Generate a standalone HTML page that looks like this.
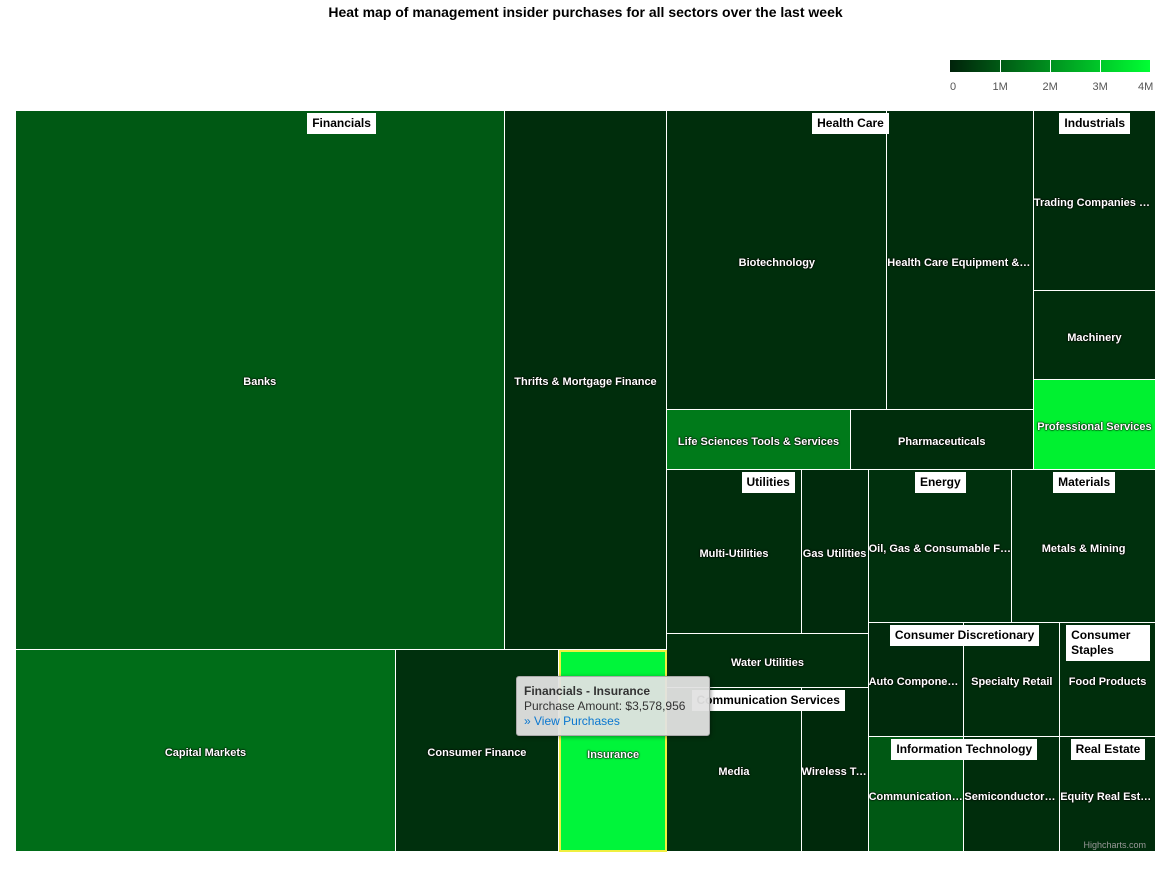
<!DOCTYPE html>
<html><head><meta charset="utf-8">
<style>
body{margin:0;width:1171px;height:869px;background:#fff;font-family:"Liberation Sans",sans-serif;position:relative;overflow:hidden}
#title{position:absolute;top:4px;left:0;width:1171px;text-align:center;font-size:14px;font-weight:bold;color:#000}
.leaf{position:absolute;box-sizing:border-box;border-right:1px solid #fff;border-bottom:1px solid #fff}
.lbl{position:absolute;left:0;width:100%;text-align:center;font-size:11px;font-weight:bold;color:#fff;white-space:nowrap;overflow:hidden;text-overflow:ellipsis;text-shadow:0 0 2px #000,0 0 1px #000,0 0 1px #000}
.hdr{position:absolute;background:#fff;color:#000;font-size:12px;font-weight:bold;padding:3px 5px;line-height:15px;box-sizing:border-box}
#legend{position:absolute;left:950px;top:60px;width:200px;height:12px}
.lt{position:absolute;top:81px;font-size:11px;color:#555}
#tip{position:absolute;left:516px;top:676px;width:194px;height:60px;background:rgba(225,225,225,0.95);border:1px solid #aaa;border-radius:3px;box-shadow:1px 1px 4px rgba(0,0,0,0.4);font-size:12px;color:#333;padding:7px;box-sizing:border-box;line-height:15px}
#credit{position:absolute;right:25px;top:840px;font-size:9px;color:#999}
</style></head><body>
<div id="title">Heat map of management insider purchases for all sectors over the last week</div>
<div id="legend"></div>
<div id="tm"></div>
<div id="credit">Highcharts.com</div>
<script>
const industries=["Banks","Thrifts & Mortgage Finance","Capital Markets","Consumer Finance","Insurance","Biotechnology","Health Care Equipment & Supplies","Life Sciences Tools & Services","Pharmaceuticals","Trading Companies & Distributors","Machinery","Professional Services","Multi-Utilities","Gas Utilities","Water Utilities","Media","Wireless Telecommunication Services","Oil, Gas & Consumable Fuels","Metals & Mining","Auto Components","Specialty Retail","Food Products","Communications Equipment","Semiconductors & Semiconductor Equipment","Equity Real Estate Investment Trusts"];
const counts=[24,8,7,3,2,6,4,1,1,2,1,1,2,1,1,2,1,2,2,1,1,1,1,1,1];
const amounts=[1.0,0.2,1.35,0.25,3.578956,0.22,0.2,1.6,0.2,0.18,0.22,3.75,0.2,0.15,0.22,0.25,0.12,0.25,0.25,0.15,0.2,0.22,0.97,0.2,0.18];
const sectors=["Financials","Health Care","Industrials","Utilities","Communication Services","Energy","Materials","Consumer Discretionary","Consumer Staples","Information Technology","Real Estate"];
const legendTicks=["0","1M","2M","3M","4M"];
const colorMax=4;
const X0=16,Y0=111,W=1140,H=741;
function color(v){const t=Math.max(0,Math.min(1,v/colorMax));return `rgb(0,${Math.round(34+221*t)},${Math.round(10+41*t)})`;}
const L=i=>({leaf:i}), S=(s,n)=>({sector:s,node:n}), N=(d,c)=>({dir:d,children:c});
const tree=N('h',[
 S(0,N('v',[N('h',[L(0),L(1)]),N('h',[L(2),L(3),L(4)])])),
 N('v',[
  N('h',[S(1,N('v',[N('h',[L(5),L(6)]),N('h',[L(7),L(8)])])),S(2,N('v',[L(9),L(10),L(11)]))]),
  N('h',[
   N('v',[S(3,N('v',[N('h',[L(12),L(13)]),L(14)])),S(4,N('h',[L(15),L(16)]))]),
   N('v',[N('h',[S(5,L(17)),S(6,L(18))]),N('h',[S(7,N('h',[L(19),L(20)])),S(8,L(21))]),N('h',[S(9,N('h',[L(22),L(23)])),S(10,L(24))])])
  ])
 ])
]);
function weight(n){if(n.leaf!==undefined)return counts[n.leaf];if(n.node)return weight(n.node);return n.children.reduce((a,c)=>a+weight(c),0);}
const tm=document.getElementById('tm');const headers=[];
function layout(n,x,y,w,h){
 if(n.leaf!==undefined){
  const d=document.createElement('div');d.className='leaf';
  
  
  d.style.cssText=`left:${x}px;top:${y}px;width:${w}px;height:${h}px;background:${color(amounts[n.leaf])}`;
  if(n.leaf===4){d.style.border='2px solid #f0f040';d.style.background='#00f53a';}
  const s=document.createElement('div');s.className='lbl';s.textContent=industries[n.leaf];s.style.top=(h/2-5)+'px';s.style.lineHeight='14px';
  d.appendChild(s);tm.appendChild(d);return;}
 if(n.node){layout(n.node,x,y,w,h);headers.push([n.sector,x,y,w]);return;}
 const tot=weight(n);let off=0;
 n.children.forEach(c=>{const f=weight(c)/tot;
  if(n.dir==='h'){const cw=w*f;layout(c,x+off,y,cw,h);off+=cw;}
  else{const ch=h*f;layout(c,x,y+off,w,ch);off+=ch;}});
}
layout(tree,X0,Y0,W,H);
headers.forEach(([s,x,y,w])=>{
 const b=document.createElement('div');b.className='hdr';b.textContent=sectors[s];
 
 
 b.style.maxWidth=(w<110?84:w-12)+'px';b.style.top=(y+2)+'px';tm.appendChild(b);
 b.style.left=(x+w/2-b.offsetWidth/2)+'px';
});
const lg=document.getElementById('legend');
lg.style.background=`linear-gradient(to right,${color(0)},${color(colorMax)})`;
legendTicks.forEach((t,i)=>{
 if(i>0&&i<legendTicks.length-1){const ln=document.createElement('div');
  
  
  ln.style.cssText=`position:absolute;left:${i*50}px;top:0;width:1px;height:12px;background:#fff`;lg.appendChild(ln);}
 const e=document.createElement('div');e.className='lt';e.textContent=t;
 
 
 document.body.appendChild(e);e.style.left=(950+i*50-(i===0?0:(i===legendTicks.length-1?e.offsetWidth-3:e.offsetWidth/2)))+'px';
});
</script>
<div id="tip"><b>Financials - Insurance</b><br>Purchase Amount: $3,578,956<br><span style="color:#0a77d0">» View Purchases</span></div>
</body></html>
